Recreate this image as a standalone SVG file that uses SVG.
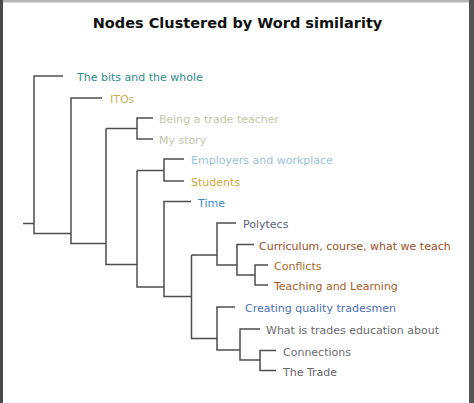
<svg xmlns="http://www.w3.org/2000/svg" width="474" height="403" viewBox="0 0 474 403">
<style>
.t{font-family:"DejaVu Sans",Verdana,sans-serif;font-size:11px}
.title{font-family:"DejaVu Sans",Verdana,sans-serif;font-size:14.5px;font-weight:bold;fill:#111}
.c path{fill:none;stroke:#4d4d4d;stroke-width:1.5}
</style>
<rect x="0" y="0" width="474" height="403" fill="#fff"/>
<rect x="0" y="0" width="474" height="2.5" fill="#b4b4b4"/>
<rect x="0" y="0" width="3" height="403" fill="#4a4a4a"/>
<rect x="469" y="0" width="5" height="403" fill="#555"/>
<text class="title" x="237.5" y="28" text-anchor="middle">Nodes Clustered by Word similarity</text>
<g id="connectors" class="c">
<path d="M23 223.5H34"/>
<path d="M63 76H34V233.5H71"/>
<path d="M102 98H71V243.5H106"/>
<path d="M106 128.5H137"/>
<path d="M153 118H137V139H153"/>
<path d="M106 128.5V264.5H137"/>
<path d="M137 170.5H164"/>
<path d="M184 159H164V181H184"/>
<path d="M137 170.5V287H164"/>
<path d="M191 201.5H164V296.5H191.5"/>
<path d="M191.5 255H217"/>
<path d="M236 223H217V265H237"/>
<path d="M254 244.5H237V275H255"/>
<path d="M268 265H255V285H268"/>
<path d="M191.5 255V338.5H217"/>
<path d="M235 307H217V350H240"/>
<path d="M260 329H240V360H260"/>
<path d="M276 350.5H260V370.5H276"/>
</g>
<g id="n1"><text class="t" x="77" y="81" fill="#2f8c86">The bits and the whole</text></g>
<g id="n2"><text class="t" x="110" y="103" fill="#c2b45e">ITOs</text></g>
<g id="n3"><text class="t" x="159" y="123" fill="#c4c8a6">Being a trade teacher</text></g>
<g id="n4"><text class="t" x="159" y="144" fill="#c6c4ae">My story</text></g>
<g id="n5"><text class="t" x="191" y="164" fill="#9cc2e4">Employers and workplace</text></g>
<g id="n6"><text class="t" x="191" y="186" fill="#d0a63c">Students</text></g>
<g id="n7"><text class="t" x="198" y="206.5" fill="#3d8fd0">Time</text></g>
<g id="n8"><text class="t" x="243" y="228" fill="#5c6275">Polytecs</text></g>
<g id="n9"><text class="t" x="259" y="249.5" fill="#9c4e22">Curriculum, course, what we teach</text></g>
<g id="n10"><text class="t" x="274" y="270" fill="#b0662a">Conflicts</text></g>
<g id="n11"><text class="t" x="274" y="290" fill="#a85e28">Teaching and Learning</text></g>
<g id="n12"><text class="t" x="245" y="312" fill="#4a70bd">Creating quality tradesmen</text></g>
<g id="n13"><text class="t" x="266" y="334" fill="#6a6a6c">What is trades education about</text></g>
<g id="n14"><text class="t" x="283" y="355.5" fill="#6c6c70">Connections</text></g>
<g id="n15"><text class="t" x="283" y="375.5" fill="#666">The Trade</text></g>
</svg>
